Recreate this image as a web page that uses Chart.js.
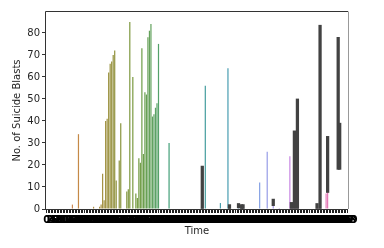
<!DOCTYPE html>
<html>
<head>
<meta charset="utf-8">
<script src="https://cdn.jsdelivr.net/npm/chart.js@4.4.0/dist/chart.umd.min.js"></script>
<style>
  html, body { margin: 0; padding: 0; background: #fff; }
  #wrap { width: 384px; height: 248px; }
</style>
</head>
<body>
<div id="wrap"><canvas id="blasts" width="384" height="248"></canvas></div>
<script>
// mean number of suicide blasts per time step
const blasts = [
  0, 0, 0, 0, 0, 0, 0, 0, 0, 0, 0, 0, 0, 0, 0, 0, 0, 2, 0, 0,
  0, 34, 0, 0, 0, 0, 0, 0, 0, 0, 0, 1, 0, 0, 0, 1, 2, 16, 4, 40,
  41, 62, 66, 67, 70, 72, 13, 0, 22, 39, 0, 0, 0, 8, 9, 85, 0, 60, 0, 7,
  5, 23, 21, 73, 25, 53, 52, 78, 81, 84, 42, 43, 46, 48, 75, 0, 0, 0, 0, 0,
  0, 30, 0, 0, 0, 0, 0, 0, 0, 0, 0, 0, 0, 0, 0, 0, 0, 0, 0, 0,
  0, 0, 0, 7, 0, 56, 0, 0, 0, 0, 0, 0, 0, 0, 0, 2.7, 0, 0, 0, 0,
  64, 1, 0, 0, 0, 0, 0, 1.5, 0, 1, 1, 0, 0, 0, 0, 0, 0, 0, 0, 0,
  0, 12, 0, 0, 0, 0, 26, 0, 0, 0, 3, 0, 0, 0, 0.5, 0, 0, 0, 0, 0,
  0, 24, 1, 0, 12, 0, 20, 0, 0, 0, 0, 0, 0, 0, 0, 0, 0, 0, 0, 1,
  0, 30, 0, 0, 0, 7, 20, 0, 0, 0, 0, 0, 0, null, null, 0, 0, 0, 0, 0
];

// confidence intervals (error bars) where a time step has several records
const ciIndex = [103, 121, 127, 129, 130, 150, 162, 164, 166, 179, 181, 186, 193, 194];
const ciLow   = [0,   0,   0.5, 0,   0,   1.5, 0,   0,   0,   0,   0,   7.5, 18,  18];
const ciHigh  = [19.5, 2,  2.5, 2,   2,   4.5, 3,   35.5, 50, 2.5, 83.5, 33, 78,  39];

const timeLabels = blasts.map((_, i) => String(i));
const yTicks = [0, 10, 20, 30, 40, 50, 60, 70, 80];

const ciData = blasts.map(() => null);
ciIndex.forEach((idx, k) => { ciData[idx] = [ciLow[k], ciHigh[k]]; });

// seaborn husl palette, desaturated like barplot does
const huslAnchors = ['#f77189', '#dc8932', '#ae9d31', '#77ab31', '#33b07a',
                     '#36ada4', '#38a9c5', '#6e9bf4', '#cc7af4', '#f565cc'];

function hexRgb(h) {
  return [1, 3, 5].map(p => parseInt(h.substr(p, 2), 16) / 255);
}
function desaturate(rgb, prop) {
  let [r, g, b] = rgb;
  const mx = Math.max(r, g, b), mn = Math.min(r, g, b);
  let l = (mx + mn) / 2, s = 0, h = 0;
  if (mx !== mn) {
    const d = mx - mn;
    s = l > 0.5 ? d / (2 - mx - mn) : d / (mx + mn);
    if (mx === r) h = ((g - b) / d + (g < b ? 6 : 0)) / 6;
    else if (mx === g) h = ((b - r) / d + 2) / 6;
    else h = ((r - g) / d + 4) / 6;
  }
  s *= prop;
  const q = l < 0.5 ? l * (1 + s) : l + s - l * s;
  const p = 2 * l - q;
  const hue = t => {
    if (t < 0) t += 1;
    if (t > 1) t -= 1;
    if (t < 1 / 6) return p + (q - p) * 6 * t;
    if (t < 1 / 2) return q;
    if (t < 2 / 3) return p + (q - p) * (2 / 3 - t) * 6;
    return p;
  };
  return [hue(h + 1 / 3), hue(h), hue(h - 1 / 3)];
}
function paletteColor(i, n) {
  const t = i / n * huslAnchors.length;
  const k = Math.floor(t), f = t - k;
  const a = hexRgb(huslAnchors[k % 10]), b = hexRgb(huslAnchors[(k + 1) % 10]);
  const mix = a.map((v, j) => v + (b[j] - v) * f);
  const c = desaturate(mix, 0.75).map(v => Math.round(v * 255));
  return `rgb(${c[0]}, ${c[1]}, ${c[2]})`;
}
const barColors = blasts.map((_, i) => paletteColor(i, blasts.length));

// axes frame like matplotlib spines
const frame = {
  id: "frame",
  afterDraw(chart) {
    const { ctx, chartArea: a } = chart;
    ctx.save();
    ctx.lineWidth = 1;
    ctx.strokeStyle = "#333";
    ctx.beginPath();
    ctx.moveTo(a.left - 0.5, a.bottom + 0.5);
    ctx.lineTo(a.left - 0.5, a.top - 0.5);
    ctx.lineTo(a.right, a.top - 0.5);
    ctx.moveTo(a.left - 0.5, a.bottom + 0.5);
    ctx.lineTo(a.right, a.bottom + 0.5);
    ctx.stroke();
    ctx.strokeStyle = "#999";
    ctx.beginPath();
    ctx.moveTo(a.right + 0.5, a.top - 0.5);
    ctx.lineTo(a.right + 0.5, a.bottom);
    ctx.stroke();
    ctx.restore();
  },
};

Chart.defaults.font.family = "'DejaVu Sans', sans-serif";
Chart.defaults.font.size = 10;

const ctx = document.getElementById("blasts").getContext("2d");
const blastChart = new Chart(ctx, {
  type: "bar",
  data: {
    labels: timeLabels,
    datasets: [
      {
        label: "Suicide Blasts",
        data: blasts,
        backgroundColor: barColors,
        categoryPercentage: 1,
        barPercentage: 0.8,
        grouped: false,
        order: 1,
      },
      {
        label: "CI",
        data: ciData,
        backgroundColor: "#424242",
        barThickness: 2.6,
        grouped: false,
        order: 0,
      },
    ],
  },
  options: {
    responsive: false,
    animation: false,
    layout: { padding: { top: 12, right: 36, left: 0, bottom: 0 } },
    plugins: { legend: { display: false }, tooltip: { enabled: false } },
    scales: {
      x: {
        grid: { drawOnChartArea: false, drawTicks: true, tickLength: 4, color: "#222", offset: false },
        border: { display: false },
        ticks: { autoSkip: false, maxRotation: 0, minRotation: 0, padding: 1, color: "#000", font: { weight: "bold" } },
        title: { display: true, text: "Time", color: "#262626", padding: { top: 0, bottom: 11 } },
        afterFit(scale) { scale.height = 39; },
      },
      y: {
        min: 0,
        max: 89.5,
        grid: { drawOnChartArea: false, drawTicks: true, tickLength: 4, color: "#333" },
        border: { display: false },
        afterBuildTicks(scale) { scale.ticks = yTicks.map(v => ({ value: v })); },
        ticks: { padding: 2, color: "#262626" },
        title: { display: true, text: "No. of Suicide Blasts", color: "#262626", padding: { top: 11, bottom: 0 } },
        afterFit(scale) { scale.width = 46; },
      },
    },
  },
  plugins: [frame],
});
</script>
</body>
</html>
